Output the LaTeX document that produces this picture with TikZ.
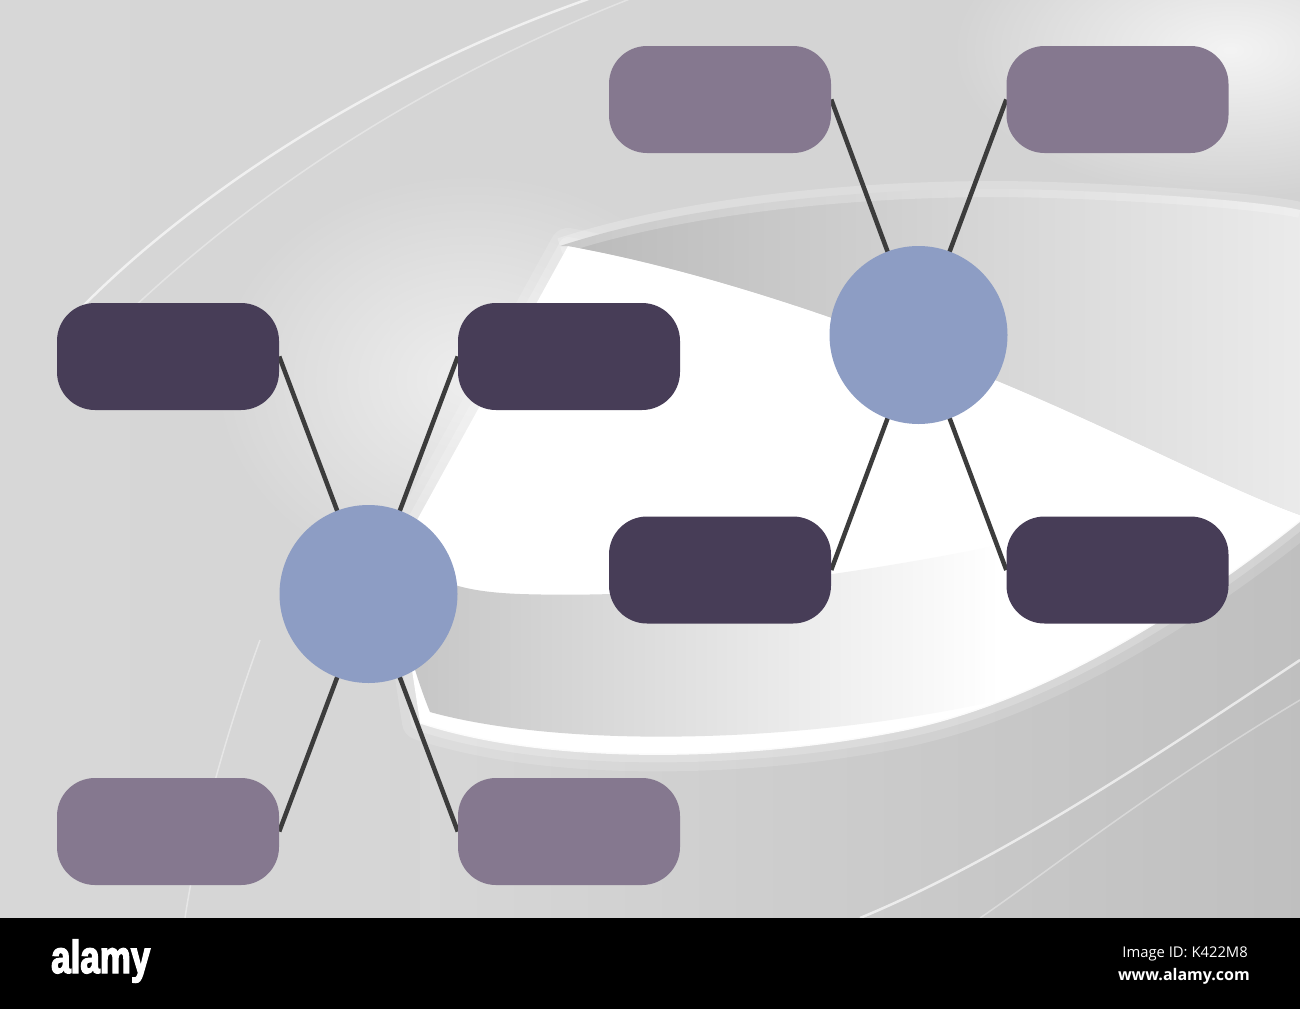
\documentclass[tikz,border=0pt]{standalone}
\usepackage{fontspec}
\setmainfont{Liberation Sans}
\newfontfamily\logofont[FakeStretch=0.8,FakeBold=3]{Liberation Sans Bold}
\newfontfamily\idfont{Open Sans}
\usetikzlibrary{fadings}
\definecolor{darkbox}{HTML}{473D57}
\definecolor{lightbox}{HTML}{85788F}
\definecolor{hubfill}{HTML}{8D9DC4}
\definecolor{linkcol}{HTML}{3C3C3C}
\definecolor{bgA}{HTML}{D7D7D7}
\definecolor{bgM}{HTML}{E0E0E0}
\definecolor{bgB}{HTML}{D2D2D2}
\tikzfading[name=softglow, inner color=transparent!0, outer color=transparent!100]
\pgfdeclarelayer{bgl}
\pgfdeclarelayer{lnl}
\pgfsetlayers{bgl,lnl,main}
\tikzset{
  box/.style={rectangle, rounded corners=38pt, minimum width=222pt, minimum height=107pt, inner sep=0pt, draw=none},
  darkb/.style={box, fill=darkbox},
  lightb/.style={box, fill=lightbox},
  hub/.style={circle, fill=hubfill, minimum size=178pt, inner sep=0pt, draw=none},
  link/.style={draw=linkcol, line width=4.5pt},
  streak/.style={draw=white, line width=2.5pt, opacity=0.65},
}
\begin{document}
\begin{tikzpicture}[x=1pt,y=-1pt]
\useasboundingbox (0,0) rectangle (1300,1009);
% ---------- nodes ----------
\node[darkb]  (L1) at (168,356.5) {};
\node[darkb]  (L2) at (569,356.5) {};
\node[lightb] (L3) at (168,831.5) {};
\node[lightb] (L4) at (569,831.5) {};
\node[hub]    (LC) at (368.5,594) {};
\node[lightb] (R1) at (720,99.5) {};
\node[lightb] (R2) at (1117.5,99.5) {};
\node[darkb]  (R3) at (720,570) {};
\node[darkb]  (R4) at (1117.5,570) {};
\node[hub]    (RC) at (918.5,335) {};
% ---------- connectors ----------
\begin{pgfonlayer}{lnl}
\draw[link] (L1.east) -- (LC.center) -- (L4.west);
\draw[link] (L2.west) -- (LC.center) -- (L3.east);
\draw[link] (R1.east) -- (RC.center) -- (R4.west);
\draw[link] (R2.west) -- (RC.center) -- (R3.east);
\end{pgfonlayer}
% ---------- background ----------
\begin{pgfonlayer}{bgl}
\shade[left color=bgA, middle color=bgM, right color=bgB] (0,0) rectangle (1300,918);
% bottom right grey
\shade[left color=bgM!96!black, right color=black!25] (420,722) .. controls (550,765) and (750,760) .. (900,730)
  .. controls (1050,700) and (1200,600) .. (1300,520) -- (1300,918) -- (420,918) -- cycle;
% soft light patch left of the white lens
\fill[white, opacity=0.6, path fading=softglow] (470,380) ellipse [x radius=260, y radius=210];
% big white lens, with soft halo
\def\lenspath{(568,246) .. controls (700,270) and (850,320) .. (1000,382) .. controls (1120,432) and (1230,490) .. (1300,515)
  -- (1300,520) .. controls (1200,600) and (1050,700) .. (900,730)
  .. controls (750,760) and (550,765) .. (420,722) -- (395,560) -- cycle}
\draw[white, opacity=0.15, line width=36pt, line join=round] \lenspath;
\draw[white, opacity=0.2, line width=18pt, line join=round] \lenspath;
\fill[white] \lenspath;
% grey crescent below lens
\shade[left color=black!23, middle color=black!21, right color=white] (395,548) .. controls (430,585) and (470,592) .. (520,594)
  .. controls (650,598) and (800,585) .. (1000,545) -- (1000,700)
  .. controls (800,745) and (560,748) .. (430,712) .. controls (405,650) and (398,600) .. (395,548) -- cycle;
% grey crescent top right
\shade[left color=black!27, middle color=black!22, right color=black!8] (560,246) .. controls (700,200) and (900,185) .. (1050,190)
  .. controls (1200,195) and (1280,205) .. (1300,210) -- (1300,515)
  .. controls (1230,490) and (1120,432) .. (1000,382) .. controls (850,320) and (700,270) .. (568,246) -- cycle;
% soft top edge of crescent
\draw[white, line width=16pt, opacity=0.22] (560,246) .. controls (700,200) and (900,185) .. (1050,190)
  .. controls (1200,195) and (1280,205) .. (1300,210);
% top right glow
\fill[white, opacity=0.75, path fading=softglow] (1230,50) ellipse [x radius=280, y radius=150];
% streaks
\draw[streak] (600,-5) .. controls (380,70) and (180,200) .. (60,330);
\draw[streak, opacity=0.35, line width=1.5pt] (640,-5) .. controls (420,80) and (240,200) .. (100,340);
\draw[streak, line width=3pt, opacity=0.9] (420,722) .. controls (550,765) and (750,760) .. (900,730)
  .. controls (1050,700) and (1200,600) .. (1300,520);
\draw[streak] (1300,660) .. controls (1150,760) and (1000,860) .. (860,918);
\draw[streak, opacity=0.4, line width=1.5pt] (260,640) .. controls (220,750) and (195,850) .. (185,918);
\draw[streak, opacity=0.35, line width=1.5pt] (1300,700) .. controls (1150,790) and (1050,870) .. (980,918);
% bottom bar
\fill[black] (0,918) rectangle (1300,1009);
\end{pgfonlayer}
% ---------- bar texts ----------
\node[anchor=base west, inner sep=0pt, text=white, font=\logofont\fontsize{46}{46}\selectfont] (logo) at (51,973) {\scalebox{0.95}[1.0]{alamy}};
\node[anchor=base east, inner sep=0pt, text=white, font=\idfont\fontsize{14.8}{16}\selectfont] (imgid) at (1248,957) {Image ID: K422M8};
\node[anchor=base east, inner sep=0pt, text=white, font=\idfont\bfseries\fontsize{16}{17}\selectfont] (site) at (1250,980) {www.alamy.com};
\end{tikzpicture}
\end{document}
